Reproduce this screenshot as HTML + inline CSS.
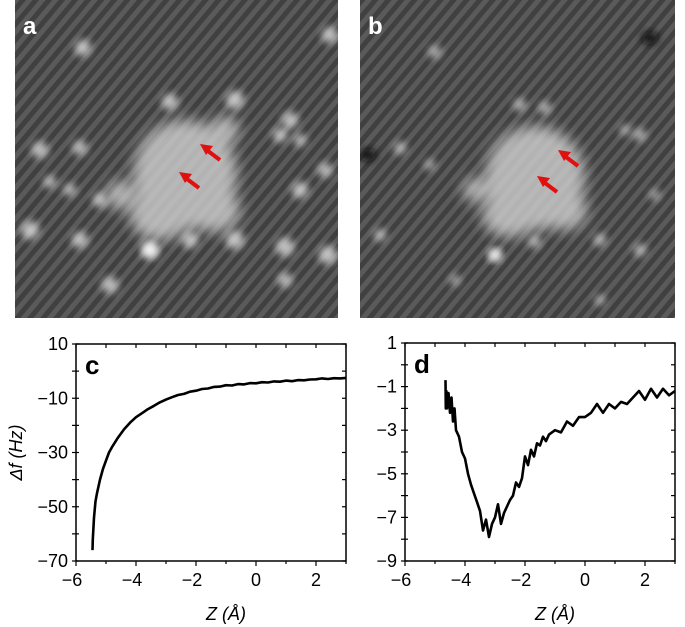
<!DOCTYPE html>
<html><head><meta charset="utf-8"><style>
body{margin:0;background:#fff;width:685px;height:627px;overflow:hidden;font-family:"Liberation Sans",sans-serif}
svg{position:absolute;left:0;top:0}
</style></head><body>
<svg width="685" height="627">
<defs>
<pattern id="stripes" width="10" height="10" patternUnits="userSpaceOnUse" patternTransform="rotate(40)">
<rect width="10" height="10" fill="#404040"/><rect width="5" height="10" fill="#5a5a5a"/>
</pattern>
<filter id="blur" x="-50%" y="-50%" width="200%" height="200%"><feGaussianBlur stdDeviation="4"/></filter>
<filter id="blur2" x="-50%" y="-50%" width="200%" height="200%"><feGaussianBlur stdDeviation="7"/></filter>
<clipPath id="ca"><rect x="15" y="0" width="323" height="318"/></clipPath>
<clipPath id="cb"><rect x="360" y="0" width="315" height="318"/></clipPath>
</defs>
<g clip-path="url(#ca)">
<rect x="15" y="0" width="323" height="318" fill="url(#stripes)"/>
<g filter="url(#blur2)" opacity="0.8" fill="#d0d0d0">
<ellipse cx="185" cy="175" rx="52" ry="55"/><ellipse cx="160" cy="215" rx="30" ry="25"/><ellipse cx="215" cy="210" rx="25" ry="22"/>
<circle cx="120" cy="195" r="14"/><circle cx="225" cy="130" r="14"/>
</g>
<g filter="url(#blur)" fill="#d8d8d8" opacity="0.85">
<circle cx="83" cy="48" r="8"/><circle cx="170" cy="102" r="8"/><circle cx="235" cy="100" r="9"/>
<circle cx="40" cy="150" r="8"/><circle cx="80" cy="148" r="7"/><circle cx="50" cy="182" r="6"/>
<circle cx="70" cy="190" r="6"/><circle cx="30" cy="230" r="9"/><circle cx="80" cy="240" r="8"/>
<circle cx="150" cy="250" r="9"/><circle cx="190" cy="240" r="8"/><circle cx="235" cy="240" r="9"/>
<circle cx="285" cy="247" r="9"/><circle cx="328" cy="255" r="9"/><circle cx="110" cy="285" r="8"/>
<circle cx="285" cy="280" r="7"/><circle cx="300" cy="190" r="8"/><circle cx="290" cy="120" r="8"/>
<circle cx="280" cy="135" r="7"/><circle cx="300" cy="140" r="6"/><circle cx="330" cy="35" r="8"/>
<circle cx="100" cy="200" r="7"/><circle cx="325" cy="170" r="7"/>
</g>
<g filter="url(#blur)"><circle cx="150" cy="250" r="6" fill="#fff"/></g>
<text x="23" y="34" font-size="24" font-weight="bold" fill="#fff">a</text>
<g stroke="#e01010" stroke-width="4" fill="#e01010">
<line x1="220" y1="160" x2="208" y2="151"/><polygon points="200,144 213,146 206,155" stroke="none"/>
<line x1="199" y1="188" x2="187" y2="179"/><polygon points="179,172 192,174 185,183" stroke="none"/>
</g>
</g>
<g clip-path="url(#cb)">
<rect x="360" y="0" width="315" height="318" fill="url(#stripes)"/>
<g filter="url(#blur2)" opacity="0.8" fill="#d0d0d0">
<ellipse cx="535" cy="178" rx="50" ry="52"/><ellipse cx="510" cy="215" rx="28" ry="22"/><ellipse cx="565" cy="210" rx="22" ry="20"/>
<circle cx="475" cy="190" r="12"/>
</g>
<g filter="url(#blur)" fill="#d8d8d8" opacity="0.8">
<circle cx="435" cy="52" r="6"/><circle cx="520" cy="105" r="6"/><circle cx="545" cy="108" r="6"/>
<circle cx="400" cy="148" r="6"/><circle cx="430" cy="165" r="5"/><circle cx="380" cy="235" r="6"/>
<circle cx="495" cy="255" r="7"/><circle cx="535" cy="242" r="6"/><circle cx="600" cy="240" r="6"/>
<circle cx="640" cy="250" r="6"/><circle cx="640" cy="135" r="6"/><circle cx="625" cy="130" r="5"/>
<circle cx="655" cy="195" r="5"/><circle cx="600" cy="300" r="5"/><circle cx="455" cy="280" r="5"/>
</g>
<g filter="url(#blur)"><circle cx="495" cy="255" r="5" fill="#fff"/></g>
<ellipse cx="368" cy="155" rx="8" ry="6" fill="#111" filter="url(#blur)"/>
<ellipse cx="650" cy="38" rx="8" ry="6" fill="#111" filter="url(#blur)"/>
<text x="368" y="34" font-size="24" font-weight="bold" fill="#fff">b</text>
<g stroke="#e01010" stroke-width="4" fill="#e01010">
<line x1="578" y1="166" x2="566" y2="157"/><polygon points="558,150 571,152 564,161" stroke="none"/>
<line x1="557" y1="192" x2="545" y2="183"/><polygon points="537,176 550,178 543,187" stroke="none"/>
</g>
</g>
<g id="chartC"></g>
<g id="chartD"></g>
</svg>
<script>
const zTicks=[-6,-4,-2,0,2];
const cYTicks=[10,-10,-30,-50,-70];
const dYTicks=[1,-1,-3,-5,-7,-9];
const cZ=[-5.45,-5.44,-5.42,-5.4,-5.35,-5.3,-5.2,-5.1,-5.0,-4.9,-4.8,-4.6,-4.4,-4.2,-4.0,-3.8,-3.6,-3.4,-3.2,-3.0,-2.8,-2.6,-2.4,-2.2,-2.0,-1.8,-1.6,-1.4,-1.2,-1.0,-0.8,-0.6,-0.4,-0.2,0,0.2,0.4,0.6,0.8,1.0,1.2,1.4,1.6,1.8,2.0,2.2,2.4,2.6,2.8,3.0];
const cDf=[-66,-62,-58,-54,-48,-45,-40,-36,-33,-30,-28,-24.5,-21.5,-19,-17,-15.5,-14,-12.8,-11.5,-10.5,-9.6,-8.8,-8.4,-7.6,-7.2,-6.6,-6.4,-5.8,-5.7,-5.2,-5.3,-4.8,-4.9,-4.4,-4.5,-4.1,-4.2,-3.8,-3.9,-3.5,-3.7,-3.3,-3.4,-3.1,-3.0,-2.7,-2.9,-2.6,-2.7,-2.5];
const dZ=[-4.65,-4.64,-4.62,-4.6,-4.55,-4.5,-4.45,-4.4,-4.35,-4.3,-4.2,-4.1,-4.0,-3.9,-3.8,-3.7,-3.6,-3.5,-3.4,-3.3,-3.2,-3.1,-3.0,-2.9,-2.8,-2.7,-2.6,-2.5,-2.4,-2.3,-2.2,-2.1,-2.0,-1.9,-1.8,-1.7,-1.6,-1.5,-1.4,-1.3,-1.2,-1.0,-0.8,-0.6,-0.4,-0.2,0,0.2,0.4,0.6,0.8,1.0,1.2,1.4,1.6,1.8,2.0,2.2,2.4,2.6,2.8,3.0];
const dDf=[-0.7,-2.0,-1.2,-2.0,-1.3,-2.2,-1.5,-2.6,-2.0,-3.0,-3.3,-4.0,-4.3,-5.0,-5.5,-5.9,-6.3,-6.7,-7.6,-7.1,-7.9,-7.3,-7.0,-6.4,-7.3,-6.8,-6.5,-6.2,-6.0,-5.4,-5.6,-5.2,-4.2,-4.6,-3.9,-4.2,-3.6,-3.7,-3.3,-3.5,-3.2,-3.0,-3.1,-2.6,-2.8,-2.4,-2.4,-2.2,-1.8,-2.2,-1.8,-2.0,-1.7,-1.8,-1.5,-1.2,-1.6,-1.1,-1.5,-1.1,-1.4,-1.2];
const NS='http://www.w3.org/2000/svg';
function mk(p,tag,at){const e=document.createElementNS(NS,tag);for(const k in at)e.setAttribute(k,at[k]);p.appendChild(e);return e;}
function draw(g,L,R,T,B,ymin,ymax,yTicks,xs,ys,label,showYTitle){
 const sx=z=>L+(z+6)/9*(R-L), sy=v=>B-(v-ymin)/(ymax-ymin)*(B-T);
 const fr=mk(g,'rect',{x:L,y:T,width:R-L,height:B-T,fill:'none',stroke:'#000','stroke-width':1.5});
 
 for(let z=-6;z<=3;z+=1){const x=sx(z);mk(g,'line',{x1:x,x2:x,y1:B,y2:B+(z%2===0?5:3),stroke:'#000','stroke-width':1.2});mk(g,'line',{x1:x,x2:x,y1:T,y2:T+4,stroke:'#000','stroke-width':1.2});}
 const step=(yTicks[0]-yTicks[1])/2;
 for(let v=ymin;v<=ymax+1e-9;v+=step){const y=sy(v);mk(g,'line',{x1:L-4,x2:L+3,y1:y,y2:y,stroke:'#000','stroke-width':1.2});mk(g,'line',{x1:R-4,x2:R,y1:y,y2:y,stroke:'#000','stroke-width':1.2});}
 zTicks.forEach(z=>{const t=mk(g,'text',{x:sx(z)-(z<0?4:0),y:B+25,'font-size':18,'text-anchor':'middle'});t.textContent=z<0?'\u2212'+(-z):z;});
 yTicks.forEach(v=>{const t=mk(g,'text',{x:L-8,y:sy(v)+6,'font-size':18,'text-anchor':'end'});t.textContent=v<0?'\u2212'+(-v):v;});
 const d=xs.map((z,i)=>(i?'L':'M')+sx(z).toFixed(1)+','+sy(ys[i]).toFixed(1)).join('');
 const p=mk(g,'path',{d:d,fill:'none',stroke:'#000','stroke-width':2.6,'stroke-linejoin':'round'});
 
 const pl=mk(g,'text',{x:L+9,y:T+30,'font-size':26,'font-weight':'bold'});pl.textContent=label;
 
 const xt=mk(g,'text',{x:(L+R)/2+15,y:B+59,'font-size':18,'font-style':'italic','text-anchor':'middle'});xt.textContent='Z (Å)';
 
 if(showYTitle){const yt=mk(g,'text',{x:0,y:0,'font-size':18,'font-style':'italic','text-anchor':'middle',transform:`translate(22,${(T+B)/2}) rotate(-90)`});yt.textContent='Δf (Hz)';
 }
}
draw(document.getElementById('chartC'),76,346,344,561,-70,10,cYTicks,cZ,cDf,'c',true);
draw(document.getElementById('chartD'),405,675,343,561,-9,1,dYTicks,dZ,dDf,'d',false);
</script>
</body></html>
